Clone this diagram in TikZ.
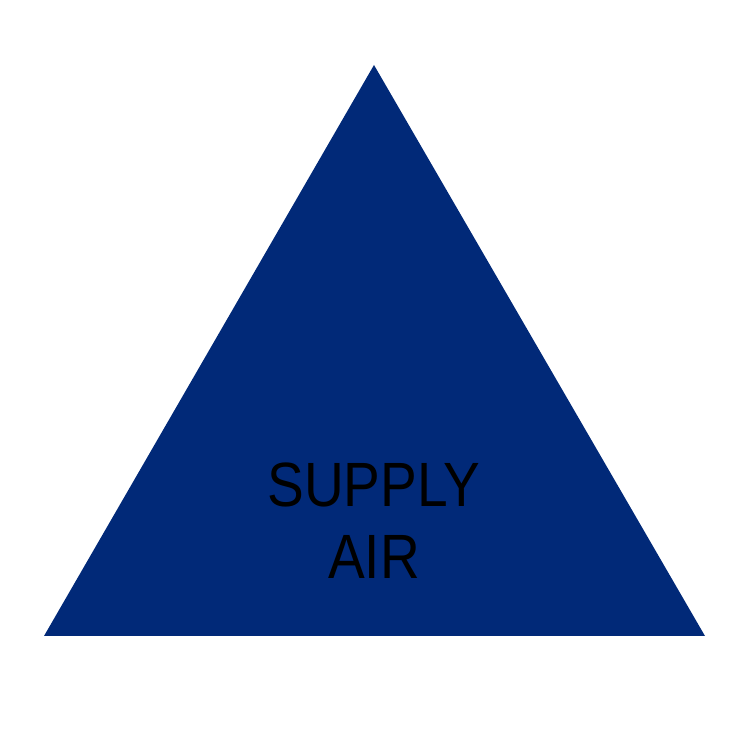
\documentclass[tikz,border=0pt]{standalone}
\usepackage{fontspec}
\setmainfont{Liberation Sans}
\definecolor{supplyblue}{RGB}{1,41,120}
\tikzset{
	supplytri/.style={fill=supplyblue, draw=none},
	supplytext/.style={align=center, text=black, xscale=0.88, font=\fontsize{35.6}{40.8}\selectfont}
}
\begin{document}
\begin{tikzpicture}
	\useasboundingbox (0,0) rectangle (15,15);
	\coordinate (apex) at (7.48,13.7);
	\coordinate (left) at (0.88,2.28);
	\coordinate (right) at (14.1,2.28);
	\fill[supplytri] (apex) -- (left) -- (right) -- cycle;
	\node[supplytext] (label) at (7.48,4.59) {SUPPLY\\AIR};
\end{tikzpicture}
\end{document}
